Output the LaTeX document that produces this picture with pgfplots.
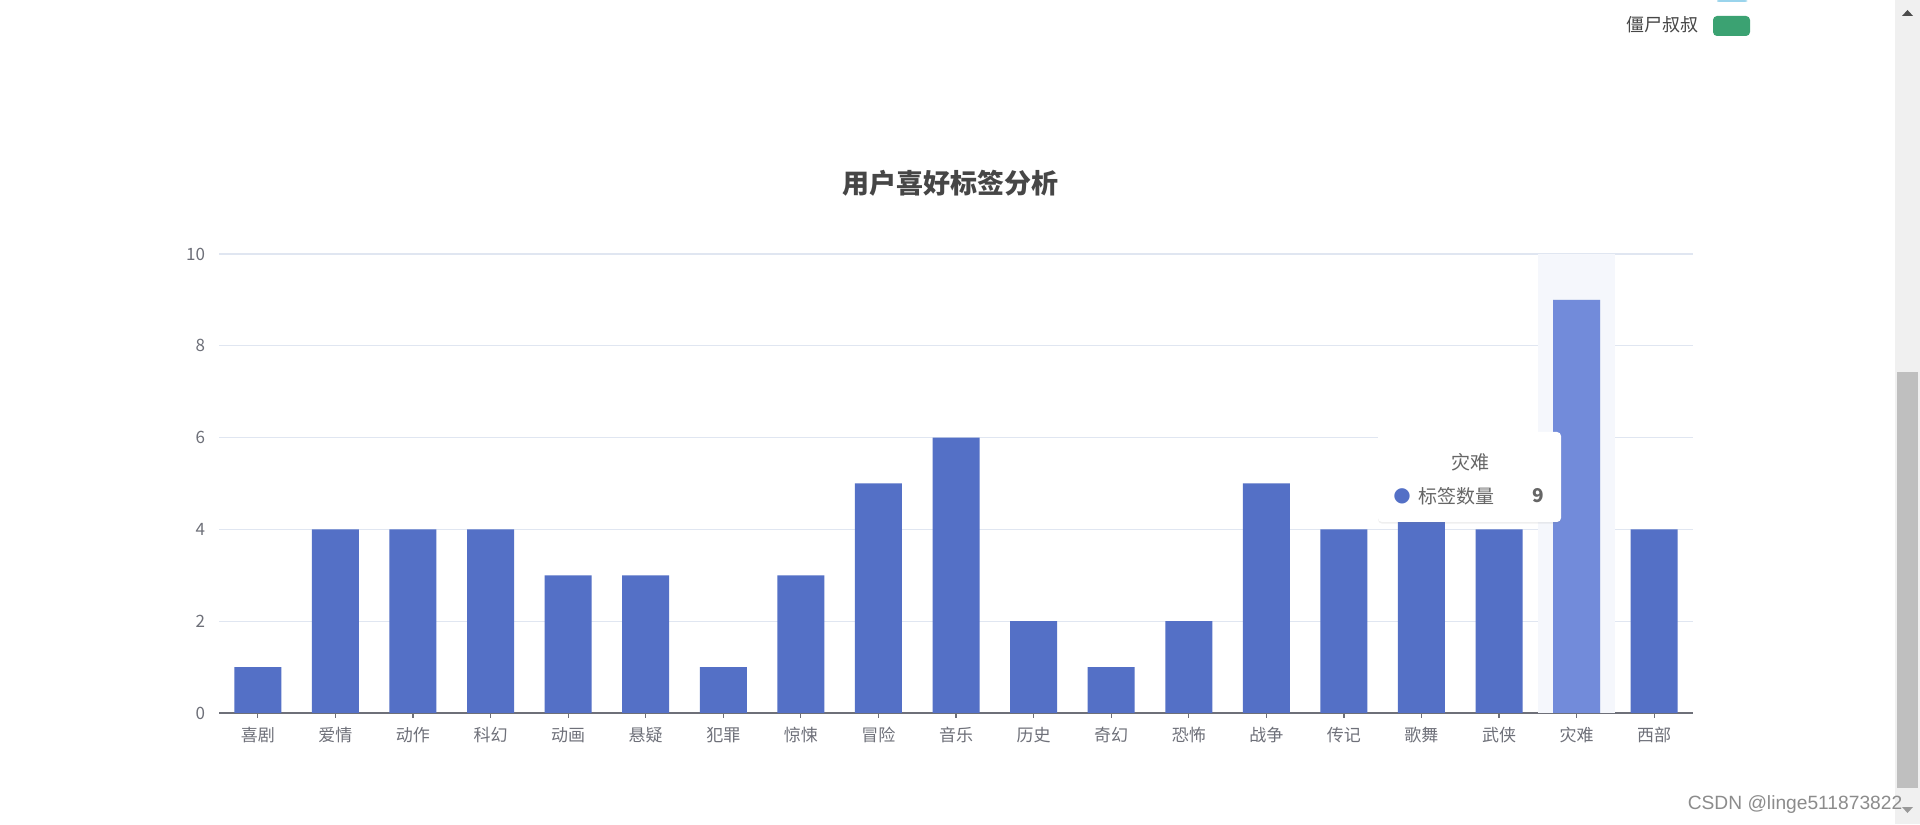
\documentclass[border=0pt]{standalone}
\usepackage{pgfplots}
\pgfplotsset{compat=1.18}
\usepackage{pgfplotstable}
\usepackage{fontspec}
\setmainfont{Noto Sans CJK SC}
\newfontfamily\dejavu{DejaVu Sans}
\newfontfamily\wmfont{Liberation Sans}
\usetikzlibrary{shadows}

\definecolor{barblue}{HTML}{5470C6}
\definecolor{hiblue}{HTML}{728BDA}
\definecolor{bandc}{HTML}{F5F7FC}
\definecolor{gridc}{HTML}{E0E6F1}
\definecolor{axisgray}{HTML}{6E7079}
\definecolor{titlec}{HTML}{464646}
\definecolor{legendgreen}{HTML}{3BA272}
\definecolor{legendblue}{HTML}{9AD4EC}
\definecolor{tipgray}{HTML}{666666}

% pixel helper: x right, y down, 1px = 0.5pt, page 1920x824 px
\newcommand{\pxy}[2]{({(#1)*0.5pt},{(824-(#2))*0.5pt})}

\pgfplotstableread{
idx val
0 1
1 4
2 4
3 4
4 3
5 3
6 1
7 3
8 5
9 6
10 2
11 1
12 2
13 5
14 4
15 5
16 4
17 9
18 4
}\tagdata

% hovered category (灾难)
\pgfplotstableread{
idx val
17 9
}\hidata

\pgfplotstableread{
idx val
17 10
}\banddata

\begin{document}
\begin{tikzpicture}
\fill[white] (0,0) rectangle (960pt,412pt);

\begin{axis}[
    at={(109.5pt,55.5pt)},
    anchor=south west,
    width=737pt,
    height=229.5pt,
    scale only axis,
    xmin=-0.5, xmax=18.5,
    ymin=0, ymax=10,
    ytick={0,2,...,10},
    xtick={0,...,18},
    xticklabels={喜剧,爱情,动作,科幻,动画,悬疑,犯罪,惊悚,冒险,音乐,历史,奇幻,恐怖,战争,传记,歌舞,武侠,灾难,西部},
    axis x line*=bottom,
    axis y line*=left,
    x axis line style={draw=axisgray, line width=0.6pt, -},
    y axis line style={draw=none},
    ymajorgrids,
    grid style={draw=gridc, line width=0.6pt},
    ytick style={draw=none},
    xtick style={draw=axisgray, line width=0.6pt},
    major tick length=2.5pt,
    tick align=outside,
    tick label style={font=\fontsize{8.5}{10}\selectfont, text=axisgray},
    yticklabel style={xshift=-1pt},
    xticklabel style={yshift=-1pt},
    /pgf/number format/assume math mode=true,
    clip=false,
]
\addplot[ybar, bar shift=0pt, bar width=38.8pt, fill=bandc, draw=none] table[x=idx, y=val] {\banddata};
\addplot[ybar, bar shift=0pt, bar width=23.5pt, fill=barblue, draw=none] table[x=idx, y=val] {\tagdata};
\addplot[ybar, bar shift=0pt, bar width=23.5pt, fill=hiblue, draw=none] table[x=idx, y=val] {\hidata};
\end{axis}

% title
\node[text=titlec, font=\fontsize{13.5}{16}\selectfont\bfseries] at \pxy{950}{183} {用户喜好标签分析};

% legend (top right, partly scrolled off)
\fill[legendblue, rounded corners=1pt] \pxy{1717}{0} rectangle \pxy{1747}{2};
\node[anchor=east, text=titlec, font=\fontsize{9}{11}\selectfont] at \pxy{1706}{25} {僵尸叔叔};
\fill[legendgreen, rounded corners=2pt] \pxy{1713}{16} rectangle \pxy{1750}{36};

% tooltip
\node[fill=white, rounded corners=2pt, minimum width=91.5pt, minimum height=45pt,
      drop shadow={opacity=0.12, shadow xshift=0pt, shadow yshift=-0.8pt}] at \pxy{1469.5}{477} {};
\node[text=tipgray, font=\fontsize{9.5}{11}\selectfont] at \pxy{1470}{462} {灾难};
\node[text=barblue, font=\fontsize{10}{12}\dejavu, inner sep=0pt] at \pxy{1402}{496} {●};
\node[anchor=west, text=tipgray, font=\fontsize{9.5}{11}\selectfont, inner sep=0pt] at \pxy{1418}{496} {标签数量};
\node[text=tipgray, font=\fontsize{9.5}{11}\selectfont\bfseries, inner sep=0pt] at \pxy{1538}{496} {9};

% browser scrollbar
\fill[black!6] \pxy{1895}{0} rectangle \pxy{1920}{824};
\fill[black!25] \pxy{1897}{372} rectangle \pxy{1918}{788};
\fill[black!70] \pxy{1902}{16} -- \pxy{1913}{16} -- \pxy{1907.5}{10} -- cycle;
\fill[black!40] \pxy{1902}{807} -- \pxy{1913}{807} -- \pxy{1907.5}{813} -- cycle;

% watermark
\node[text=black!45, font=\fontsize{9.6}{11}\wmfont, inner sep=0pt] at \pxy{1795}{805} {CSDN @linge511873822};

\pgfresetboundingbox
\useasboundingbox (0,0) rectangle (960pt,412pt);
\end{tikzpicture}
\end{document}
